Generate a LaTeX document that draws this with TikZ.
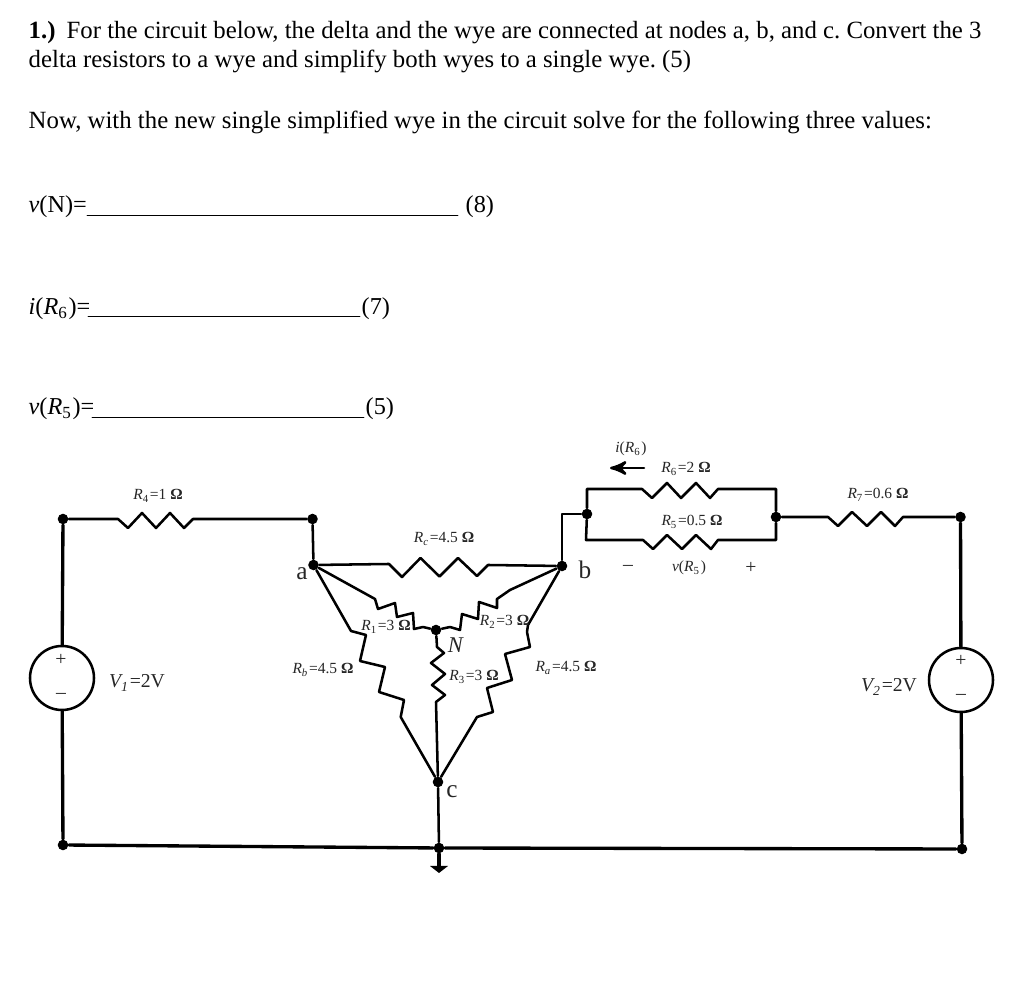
\documentclass[tikz,border=0pt]{standalone}
\usepackage{fontspec}
\setmainfont{Liberation Serif}
\usetikzlibrary{arrows}
\newcommand{\ohms}{\textbf{Ω}}
\frenchspacing
\tikzset{>=stealth',
every picture/.append style={
    line join=round,
    line cap=round
  },
  wire/.style={line width=.72pt},
  bus/.style={line width=.95pt},
  dot/.style={circle,fill=black,inner sep=0,minimum size=3pt},
  src/.style={circle,draw,line width=.72pt,inner sep=0,minimum size=18.2pt},
  para/.style={anchor=base west,inner sep=0,font=\fontsize{7.05}{8}\selectfont},
  ans/.style={anchor=base west,inner sep=0,font=\fontsize{6.9}{8}\selectfont},
  lab/.style={inner sep=0,yshift=-.5pt,text=black!85,font=\fontsize{4.4}{5}\selectfont},
  sign/.style={inner sep=0,text=black!85,font=\fontsize{5.6}{7}\selectfont},
  big/.style={inner sep=0,text=black!85,font=\fontsize{7.2}{8}\selectfont}
}

\begin{document}
\begin{tikzpicture}[x=0.01cm,y=-0.01cm]
    \useasboundingbox (0,0) rectangle (1024,992);
    % question text
    \node [para] (line1) at (28,39) {\textbf{1.)}\hspace{.2em} For the circuit below, the delta and the wye are connected at nodes a, b, and c. Convert the 3};
    \node [para] (line2) at (28,68) {delta resistors to a wye and simplify both wyes to a single wye. (5)};
    \node [para] (line3) at (28,129) {Now, with the new single simplified wye in the circuit solve for the following three values:};
    \node [ans] (ansN) at (28,213) {\textit{v}(N)=};
    \node [ans] (ansI) at (28,315) {\textit{i}(\textit{R}\textsubscript{6})=};
    \node [ans] (ansV) at (28,415) {\textit{v}(\textit{R}\textsubscript{5})=};
    \node [ans] (ptsN) at (465,213) {(8)};
    \node [ans] (ptsI) at (361,315) {(7)};
    \node [ans] (ptsV) at (365,415) {(5)};
    \coordinate (blankN) at (87,215);
    \coordinate (blankI) at (88,316);
    \coordinate (blankV) at (92,417);
    \draw [line width=.25pt] (blankN) -- (458,215);
    \draw [line width=.25pt] (blankI) -- (360,316);
    \draw [line width=.25pt] (blankV) -- (364,417);

    % nodes
    \node [dot] (tl) at (63,519) {};
    \node [dot] (atop) at (312.5,519) {};
    \node [dot] (a) at (313.5,565) {};
    \node [dot] (b) at (562,566) {};
    \node [dot] (N) at (436,630) {};
    \node [dot] (c) at (438,782) {};
    \node [dot] (pl) at (587,514) {};
    \node [dot] (pr) at (776,517) {};
    \node [dot] (tr) at (960.5,517) {};
    \node [dot] (bl) at (63,845) {};
    \node [dot] (br) at (962,849) {};
    \node [dot] (gnd) at (439,848) {};
    \node [src] (vs1) at (62,678) {};
    \node [src] (vs2) at (961,680) {};
    \coordinate (bup) at (562,514);
    \coordinate (gndtip) at (439,866);

    % left side
    \draw [bus] (tl) -- (vs1);
    \draw [bus] (vs1) -- (bl);
    \draw [bus] (bl) -- (gnd) -- (br);
    \draw [wire] (tl) -- (118,519) -- (128,528) -- (142,513) -- (156,528) -- (170,513) -- (184,528) -- (193,519) -- (atop);
    \draw [wire] (atop) -- (a);

    % delta
    \draw [wire] (a) -- (389,564) -- (402,577) -- (420.5,558) -- (439.5,576.5) -- (458,558) -- (477,576) -- (488,565) -- (b);
    \draw [wire] (a) -- (351,631) -- (366,635) -- (360,661) -- (385,667) -- (379,692) -- (404,700) -- (400.7,717) -- (c);
    \draw [wire] (b) -- (528,625) -- (527,632) -- (530,647) -- (505,654) -- (512,680) -- (487,688) -- (493,712) -- (477,717) -- (c);

    % wye
    \draw [wire] (a) -- (375,599) -- (378,609) -- (395,603) -- (397,617) -- (413,613) -- (414,629) -- (423,627) -- (N);
    \draw [wire] (N) -- (450,627) -- (460,630) -- (462,614) -- (478,619) -- (479,602) -- (497,608) -- (497,599) -- (510,590) -- (b);
    \draw [wire] (N) -- (437,647) -- (444,653) -- (431,663) -- (445,674) -- (432,685) -- (445,695) -- (436,702) -- (c);

    % ground
    \draw [wire] (c) -- (gnd);
    \draw [bus] (gnd) -- (gndtip);
    \fill (430,866) -- (448,866) -- (439,873) -- cycle;

    % right side
    \draw [wire] (b) -- (bup) -- (pl);
    \draw [wire] (pl) -- (587,489) -- (642,489) -- (652,498) -- (667,483) -- (681,498) -- (696,483) -- (710,498) -- (718,489) -- (776,489) -- (pr);
    \draw [wire] (pl) -- (586,540) -- (643,540) -- (653,549) -- (667,535) -- (682,549) -- (696,535) -- (711,549) -- (718,540) -- (776,540) -- (pr);
    \draw [wire] (pr) -- (828,517) -- (838,526) -- (852,512) -- (867,526) -- (881,512) -- (895,526) -- (903,517) -- (tr);
    \draw [bus] (tr) -- (vs2);
    \draw [bus] (vs2) -- (br);
    \coordinate (itail) at (644,468);
    \coordinate (ihead) at (610,468);
    \draw [->,wire] (itail) -- (ihead);

    % labels
    \node [lab] (labR4) at (158,494) {\textit{R}\textsubscript{4}=1 \ohms};
    \node [lab] (labRc) at (444,537) {\textit{R\textsubscript{c}}=4.5 \ohms};
    \node [lab] (labR1) at (386,625) {\textit{R}\textsubscript{1}=3 \ohms};
    \node [lab] (labR2) at (504.5,620) {\textit{R}\textsubscript{2}=3 \ohms};
    \node [lab] (labR3) at (474,675) {\textit{R}\textsubscript{3}=3 \ohms};
    \node [lab] (labRb) at (323,668) {\textit{R\textsubscript{b}}=4.5 \ohms};
    \node [lab] (labRa) at (566,666) {\textit{R\textsubscript{a}}=4.5 \ohms};
    \node [lab] (labR6) at (686,467) {\textit{R}\textsubscript{6}=2 \ohms};
    \node [lab] (labR5) at (692,520) {\textit{R}\textsubscript{5}=0.5 \ohms};
    \node [lab] (labR7) at (878,493) {\textit{R}\textsubscript{7}=0.6 \ohms};
    \node [lab] (labi) at (631,447) {\textit{i}(\textit{R}\textsubscript{6})};
    \node [lab] (labv) at (689,566) {\textit{v}(\textit{R}\textsubscript{5})};
    \node [sign] (minusR5) at (628,568) {–};
    \node [sign] (plusR5) at (751,568) {+};
    \node [big] (laba) at (302,574) {a};
    \node [big] (labb) at (585,570) {b};
    \node [big] (labc) at (452,792) {c};
    \node [big,font=\fontsize{6.4}{8}\selectfont] (labN) at (456,645) {\textit{N}};
    \node [sign] (labV1) at (137,683) {\textit{V\textsubscript{1}}=2V};
    \node [sign] (labV2) at (889,687) {\textit{V\textsubscript{2}}=2V};
    \node [sign] (plus1) at (61,660) {+};
    \node [sign] (minus1) at (61,696) {–};
    \node [sign] (plus2) at (961,661) {+};
    \node [sign] (minus2) at (961,697) {–};
\end{tikzpicture}
\end{document}
